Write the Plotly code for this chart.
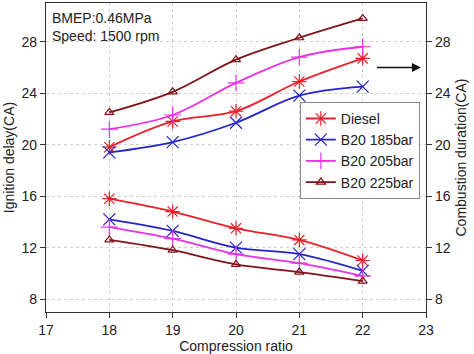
import plotly.graph_objects as go

cr = [18, 19, 20, 21, 22]
names = ["Diesel", "B20 185bar", "B20 205bar", "B20 225bar"]
colors = ["#e8212a", "#2424c8", "#e830e8", "#7f1418"]
symbols = ["asterisk-open", "x-thin-open", "cross-thin-open", "triangle-up-open"]

# Combustion duration (right axis)
comb = [
    [19.8, 21.8, 22.6, 24.9, 26.7],
    [19.4, 20.2, 21.7, 23.8, 24.5],
    [21.2, 22.3, 24.8, 26.8, 27.6],
    [22.5, 24.1, 26.6, 28.3, 29.8],
]
# Ignition delay (left axis)
ign = [
    [15.8, 14.8, 13.5, 12.6, 11.0],
    [14.2, 13.3, 12.0, 11.5, 10.2],
    [13.6, 12.7, 11.5, 10.8, 9.8],
    [12.6, 11.8, 10.7, 10.1, 9.4],
]

yticks = [8, 12, 16, 20, 24, 28]
xticks = [17, 18, 19, 20, 21, 22, 23]

FONT = "Liberation Sans, Arial, sans-serif"

fig = go.Figure()
for i in range(4):
    msize = 12 if symbols[i] != "triangle-up-open" else 8
    fig.add_trace(go.Scatter(
        x=cr, y=ign[i], mode="lines+markers", name=names[i], showlegend=False,
        line=dict(color=colors[i], width=1.8, shape="spline"),
        marker=dict(symbol=symbols[i], size=msize, color=colors[i], line=dict(width=1.2, color=colors[i])),
        xaxis="x", yaxis="y"))
for i in range(4):
    msize = 12 if symbols[i] != "triangle-up-open" else 8
    fig.add_trace(go.Scatter(
        x=cr, y=comb[i], mode="lines+markers", name=names[i],
        line=dict(color=colors[i], width=1.8, shape="spline"),
        marker=dict(symbol=symbols[i], size=msize, color=colors[i], line=dict(width=1.2, color=colors[i])),
        xaxis="x", yaxis="y2"))

axis_common = dict(showline=True, linecolor="#333", linewidth=1.2, ticks="outside",
                   ticklen=5, tickwidth=1.2, tickcolor="#333", zeroline=False,
                   tickfont=dict(family=FONT, size=14, color="#222"))

fig.update_layout(
    width=474, height=354,
    margin=dict(l=46, r=48, t=3, b=42),
    paper_bgcolor="white", plot_bgcolor="white",
    font=dict(family=FONT, size=14, color="#222"),
    xaxis=dict(range=[17, 23], tickvals=xticks, mirror=True,
               showgrid=True, gridcolor="#cfcfcf", griddash="dot", gridwidth=1,
               title=dict(text="Compression ratio", standoff=2, font=dict(size=14)),
               **axis_common),
    yaxis=dict(range=[7, 31], tickvals=yticks, showgrid=True, gridcolor="#cfcfcf",
               griddash="dot", gridwidth=1,
               title=dict(text="Ignition delay(CA)", standoff=3, font=dict(size=14)),
               **axis_common),
    yaxis2=dict(range=[7, 31], tickvals=yticks, overlaying="y", side="right",
                showgrid=False,
                title=dict(text="Combustion duration(CA)", standoff=6, font=dict(size=14)),
                **axis_common),
    legend=dict(x=0.668, y=0.68, xanchor="left", yanchor="top",
                bgcolor="white", bordercolor="#888", borderwidth=1,
                font=dict(family=FONT, size=14, color="#222"),
                tracegroupgap=0, itemwidth=30),
    annotations=[
        dict(text="BMEP:0.46MPa", xref="paper", yref="paper", x=0.01, y=0.985,
             xanchor="left", yanchor="top", showarrow=False,
             font=dict(family=FONT, size=14, color="#222")),
        dict(text="Speed: 1500 rpm", xref="paper", yref="paper", x=0.01, y=0.925,
             xanchor="left", yanchor="top", showarrow=False,
             font=dict(family=FONT, size=14, color="#222")),
        dict(text="", xref="x", yref="y2", x=22.92, y=26.0, ax=22.2, ay=26.0,
             axref="x", ayref="y2", showarrow=True, arrowhead=2, arrowsize=1.2,
             arrowwidth=1.5, arrowcolor="#111"),
    ],
)

fig.write_html("out.html")
